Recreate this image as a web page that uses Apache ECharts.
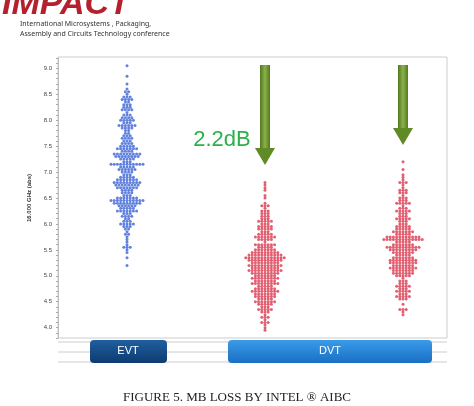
<!DOCTYPE html>
<html style="height: 100%">
<head>
  <meta charset="utf-8">
  <script src="https://cdn.jsdelivr.net/npm/echarts@6/dist/echarts.min.js"></script>
</head>
<body style="height: 100%; margin: 0; background: #fff">
  <div id="main" style="width: 474px; height: 406px"></div>
  <script type="text/javascript">
    // dot counts per 0.05 bin, starting at the given base value
    var evtBase = 5.20;
    var evtCounts = [1,0,0,1,0,1,1,3,1,1,1,1,2,1,2,3,5,3,2,4,3,7,5,6,9,11,7,3,4,4,7,8,9,7,5,3,4,6,5,11,3,5,8,9,4,7,5,4,3,4,3,2,2,4,6,3,5,4,3,1,4,3,3,2,4,3,1,2,1,0,1,0,0,1,0,0,0,1];
    var dvt1Base = 3.95;
    var dvt1Counts = [1,1,1,3,1,3,1,3,5,3,5,7,5,7,7,9,7,5,9,7,9,7,9,11,9,11,9,11,13,11,9,7,5,7,1,5,7,5,3,5,5,3,5,3,3,3,3,1,3,1,0,1,1,0,1,1,1,1];
    var dvt2Base = 4.25;
    var dvt2Counts = [1,1,3,0,1,0,3,5,3,5,3,5,3,3,1,5,7,7,9,7,9,9,7,5,7,9,11,7,5,13,11,5,7,5,5,3,3,5,3,3,5,3,1,5,3,3,1,3,3,1,1,3,1,1,1,0,1,0,0,1];
    var groupCenters = [69, 207, 345];
    var dotGap = 3.2;

    function swarm(base, counts, cx) {
      var pts = [];
      counts.forEach(function (n, i) {
        var y = base + i * 0.05;
        for (var k = 0; k < n; k++) {
          pts.push([cx + (k - (n - 1) / 2) * dotGap, +y.toFixed(2)]);
        }
      });
      return pts;
    }

    var myChart = echarts.init(document.getElementById('main'));
    var arrowGrad = new echarts.graphic.LinearGradient(0, 0, 1, 0, [
      { offset: 0, color: '#4f7a1c' }, { offset: 0.5, color: '#8db04a' }, { offset: 1, color: '#4f7a1c' }
    ]);
    function arrow(x, y1, y2) {
      return [
        { type: 'rect', shape: { x: x - 5, y: y1, width: 10, height: y2 - y1 - 16 }, style: { fill: arrowGrad } },
        { type: 'polygon', shape: { points: [[x - 10, y2 - 17], [x + 10, y2 - 17], [x, y2]] }, style: { fill: '#5f8a26' } }
      ];
    }
    var option = {
      animation: false,
      grid: { left: 58, top: 58, width: 389, height: 280 },
      xAxis: {
        type: 'value', min: 0, max: 389,
        axisLine: { show: false }, axisTick: { show: false }, axisLabel: { show: false }, splitLine: { show: false }
      },
      yAxis: {
        type: 'value', min: 3.8, max: 9.2, interval: 0.1,
        name: '16.000 GHz (abs)', nameLocation: 'middle', nameGap: 24, nameRotate: 90,
        nameTextStyle: { fontSize: 6, color: '#333', fontWeight: 'bold' },
        axisLine: { show: true, lineStyle: { color: '#bbb' } },
        axisTick: { show: true, length: 2, lineStyle: { color: '#aaa' } },
        axisLabel: {
          fontSize: 6, color: '#444', margin: 6, showMinLabel: true, showMaxLabel: true, hideOverlap: false,
          interval: 0,
          formatter: function (v) { var t = Math.round(v * 10); return (t % 5 === 0 && t >= 40 && t <= 90) ? (t / 10).toFixed(1) : ''; }
        },
        splitLine: { show: false }
      },
      series: [
        { type: 'scatter', symbolSize: 3, itemStyle: { color: '#3b63d6' }, data: swarm(evtBase, evtCounts, groupCenters[0]) },
        { type: 'scatter', symbolSize: 3, itemStyle: { color: '#d9384f' }, data: swarm(dvt1Base, dvt1Counts, groupCenters[1]) },
        { type: 'scatter', symbolSize: 3, itemStyle: { color: '#d9384f' }, data: swarm(dvt2Base, dvt2Counts, groupCenters[2]) }
      ],
      graphic: [
        { type: 'rect', shape: { x: 58, y: 57, width: 389, height: 281 }, style: { fill: 'none', stroke: '#ccc', lineWidth: 1 } },
        { type: 'text', left: 2, top: -12, style: { text: 'IMPACT', font: 'italic bold 34px Liberation Sans', fill: '#b5202e' } },
        { type: 'text', left: 20, top: 19, style: { text: 'International Microsystems , Packaging,\nAssembly and Circuits Technology conference', font: '7px Noto Sans', fill: '#333', lineHeight: 10 } },
        { type: 'line', shape: { x1: 58, y1: 342, x2: 447, y2: 342 }, style: { stroke: '#ccc' } },
        { type: 'line', shape: { x1: 58, y1: 352, x2: 447, y2: 352 }, style: { stroke: '#ccc' } },
        { type: 'line', shape: { x1: 58, y1: 362, x2: 447, y2: 362 }, style: { stroke: '#ccc' } },
        { type: 'rect', shape: { x: 90, y: 340, width: 77, height: 23, r: 4 }, style: { fill: new echarts.graphic.LinearGradient(0, 0, 0, 1, [{ offset: 0, color: '#1f5fa0' }, { offset: 1, color: '#0d3b70' }]) } },
        { type: 'text', x: 128, y: 351, style: { text: 'EVT', font: '11px Liberation Sans', fill: '#fff', align: 'center', verticalAlign: 'middle' } },
        { type: 'rect', shape: { x: 228, y: 340, width: 204, height: 23, r: 4 }, style: { fill: new echarts.graphic.LinearGradient(0, 0, 0, 1, [{ offset: 0, color: '#3a9be8' }, { offset: 1, color: '#1a6fc4' }]) } },
        { type: 'text', x: 330, y: 351, style: { text: 'DVT', font: '11px Liberation Sans', fill: '#fff', align: 'center', verticalAlign: 'middle' } },
        { type: 'text', x: 222, y: 140, style: { text: '2.2dB', font: '22px Liberation Sans', fill: '#2bb04a', align: 'center', verticalAlign: 'middle' } },
        { type: 'text', x: 237, y: 398, style: { text: 'FIGURE 5. MB LOSS BY INTEL ® AIBC', font: '13px Liberation Serif', fill: '#222', align: 'center', verticalAlign: 'middle' } }
      ].concat(arrow(265, 65, 165), arrow(403, 65, 145))
    };
    myChart.setOption(option);
  </script>
</body>
</html>
